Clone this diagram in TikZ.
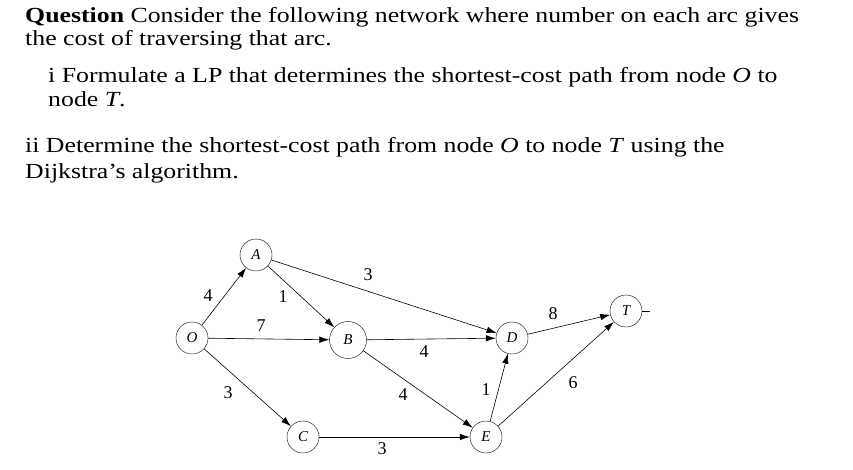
\documentclass[tikz,border=0pt]{standalone}
\usepackage{fontspec}
\setmainfont{Liberation Serif}
\newfontfamily\widefont[FakeStretch=1.2]{Liberation Serif}
\usetikzlibrary{arrows.meta}
\begin{document}
\begin{tikzpicture}[x=1pt,y=-1pt,
  txt/.style={anchor=base west,inner sep=0,font=\widefont\fontsize{21.5}{24}\selectfont},
  vert/.style={draw,circle,minimum size=32pt,inner sep=0,font=\itshape\fontsize{15}{17}\selectfont},
  arc/.style={-{Latex[length=10pt,width=6.5pt]},line width=0.6pt},
  lab/.style={font=\fontsize{18}{20}\selectfont,inner sep=0}]
\useasboundingbox (0,0) rectangle (853,469);
\node[txt] (l1) at (25,22) {\textbf{Question} Consider the following network where number on each arc gives};
\node[txt] (l2) at (25,45) {the cost of traversing that arc.};
\node[txt] (l3) at (48,82) {i Formulate a LP that determines the shortest-cost path from node \textit{O} to};
\node[txt] (l4) at (48,106) {node \textit{T}.};
\node[txt] (l5) at (25,152) {ii Determine the shortest-cost path from node \textit{O} to node \textit{T} using the};
\node[txt] (l6) at (25,178) {Dijkstra’s algorithm.};
\node[vert] (O) at (192,338) {O};
\node[vert] (A) at (256,255) {A};
\node[vert,minimum size=37pt] (B) at (348,340) {B};
\node[vert] (D) at (512,338) {D};
\node[vert] (T) at (626,311) {T};
\node[vert] (C) at (303,437) {C};
\node[vert] (E) at (486,437) {E};
\coordinate (tk) at (650,311);
\draw[line width=0.6pt] (T.east) -- (tk);
\draw[arc] (O) -- (A);
\draw[arc] (O) -- (B);
\draw[arc] (O) -- (C);
\draw[arc] (A) -- (B);
\draw[arc] (A) -- (D);
\draw[arc] (B) -- (D);
\draw[arc] (B) -- (E);
\draw[arc] (C) -- (E);
\draw[arc] (E) -- (D);
\draw[arc] (E) -- (T);
\draw[arc] (D) -- (T);
\node[lab] (n1) at (208,296) {4};
\node[lab] (n2) at (283,297) {1};
\node[lab] (n3) at (261,326) {7};
\node[lab] (n4) at (368,275) {3};
\node[lab] (n5) at (424,352) {4};
\node[lab] (n6) at (403,395) {4};
\node[lab] (n7) at (228,393) {3};
\node[lab] (n8) at (382,449) {3};
\node[lab] (n9) at (486,390) {1};
\node[lab] (n10) at (573,383) {6};
\node[lab] (n11) at (553,314) {8};
\end{tikzpicture}
\end{document}
